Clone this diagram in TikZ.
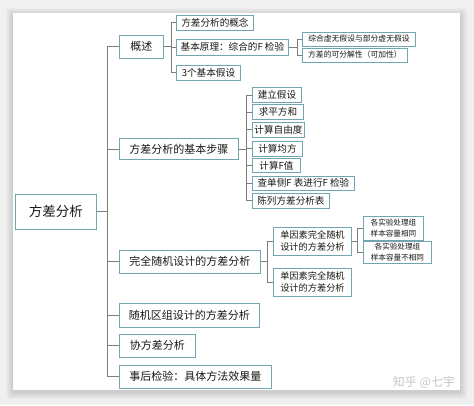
\documentclass[tikz,border=0pt]{standalone}
\usepackage{fontspec}
\setmainfont{Noto Sans CJK SC}
\usetikzlibrary{calc}
\definecolor{boxc}{RGB}{115,165,176}
\definecolor{linec}{RGB}{125,125,125}
\definecolor{txt}{RGB}{25,25,25}
\definecolor{bgc}{RGB}{240,240,240}
\begin{document}
\begin{tikzpicture}[x=1pt,y=-1pt,
  box/.style={draw=boxc, line width=0.9pt, fill=white, anchor=west, inner xsep=0pt, inner ysep=0pt, text=txt, align=center},
  lone/.style={box, font=\fontsize{11}{13}\selectfont, minimum height=23pt},
  ltwo/.style={box, font=\fontsize{9.6}{12}\selectfont, minimum height=15pt},
  lsmall/.style={box, font=\fontsize{7.8}{10}\selectfont, minimum height=14pt},
  conn/.style={draw=linec, line width=0.75pt}]
% background and card
\fill[bgc] (0,0) rectangle (474,405);
\foreach \i in {1,...,7}{
  \fill[black, opacity=0.018, rounded corners=3pt] (13-\i,13-\i+2) rectangle (460+\i,390+\i+2);
}
\fill[white] (13,13) rectangle (460,390);
\useasboundingbox (0,0) rectangle (474,405);

% root
\node[box, font=\fontsize{13.5}{16}\selectfont, minimum width=81pt, minimum height=35pt] (root) at (15,211.5) {方差分析};

% level 1
\node[lone, minimum width=44pt] (gs) at (119,46.5) {概述};
\node[lone, minimum width=119pt, minimum height=21pt] (bz) at (119,149) {方差分析的基本步骤};
\node[lone, minimum width=141pt] (wq) at (119,261.5) {完全随机设计的方差分析};
\node[lone, minimum width=140pt, minimum height=24pt] (qz) at (119,315) {随机区组设计的方差分析};
\node[lone, minimum width=76pt] (xf) at (119,345.5) {协方差分析};
\node[lone, minimum width=152pt] (sh) at (119,376.5) {事后检验：具体方法效果量};

% level 2 under 概述
\node[ltwo, minimum width=77pt] (gn) at (176,22.5) {方差分析的概念};
\node[ltwo, minimum width=112pt, minimum height=16pt] (yl) at (176,47) {基本原理：综合的F 检验};
\node[ltwo, minimum width=64pt] (jd) at (176,72.5) {3个基本假设};

% level 3 under 基本原理
\node[lsmall, minimum width=113pt] (xw) at (302,39) {综合虚无假设与部分虚无假设};
\node[lsmall, minimum width=105pt] (fj) at (302,55) {方差的可分解性（可加性）};

% steps
\node[ltwo, minimum width=49pt] (s1) at (252,95) {建立假设};
\node[ltwo, minimum width=51pt] (s2) at (252,112) {求平方和};
\node[ltwo, minimum width=52pt] (s3) at (252,129.5) {计算自由度};
\node[ltwo, minimum width=50pt] (s4) at (252,148.5) {计算均方};
\node[ltwo, minimum width=48pt, minimum height=14pt] (s5) at (252,165.5) {计算F值};
\node[ltwo, minimum width=102pt, minimum height=14pt] (s6) at (252,183) {查单侧F 表进行F 检验};
\node[ltwo, minimum width=77pt] (s7) at (252,200.5) {陈列方差分析表};

% completely randomized
\node[box, font=\fontsize{9.2}{11.5}\selectfont, minimum width=78pt, minimum height=28pt] (d1) at (273,241) {单因素完全随机\\设计的方差分析};
\node[box, font=\fontsize{9.2}{11.5}\selectfont, minimum width=78pt, minimum height=28pt] (d2) at (273,282) {单因素完全随机\\设计的方差分析};
\node[box, font=\fontsize{7.6}{11}\selectfont, minimum width=60pt, minimum height=24pt] (e1) at (363,228) {各实验处理组\\样本容量相同};
\node[box, font=\fontsize{7.6}{11}\selectfont, minimum width=68pt, minimum height=22pt] (e2) at (363,252.5) {各实验处理组\\样本容量不相同};

% bracket coordinates
\coordinate (b0) at (107,0);
\coordinate (b1) at (171,0);
\coordinate (b2) at (297,0);
\coordinate (b3) at (246,0);
\coordinate (b4) at (267,0);
\coordinate (b5) at (357,0);

% connectors
\foreach \c in {gs,bz,wq,qz,xf,sh}{
  \draw[conn] (root.east) -- (root.east -| b0) |- (\c.west);
}
\foreach \c in {gn,yl,jd}{
  \draw[conn] (gs.east) -- (gs.east -| b1) |- (\c.west);
}
\foreach \c in {xw,fj}{
  \draw[conn] (yl.east) -- (yl.east -| b2) |- (\c.west);
}
\foreach \c in {s1,s2,s3,s4,s5,s6,s7}{
  \draw[conn] (bz.east) -- (bz.east -| b3) |- (\c.west);
}
\foreach \c in {d1,d2}{
  \draw[conn] (wq.east) -- (wq.east -| b4) |- (\c.west);
}
\foreach \c in {e1,e2}{
  \draw[conn] (d1.east) -- (d1.east -| b5) |- (\c.west);
}

% watermark
\node[text=gray!45, font=\fontsize{12}{14}\selectfont, inner sep=0pt] (wm) at (424,382) {知乎 @七宇};
\end{tikzpicture}
\end{document}
